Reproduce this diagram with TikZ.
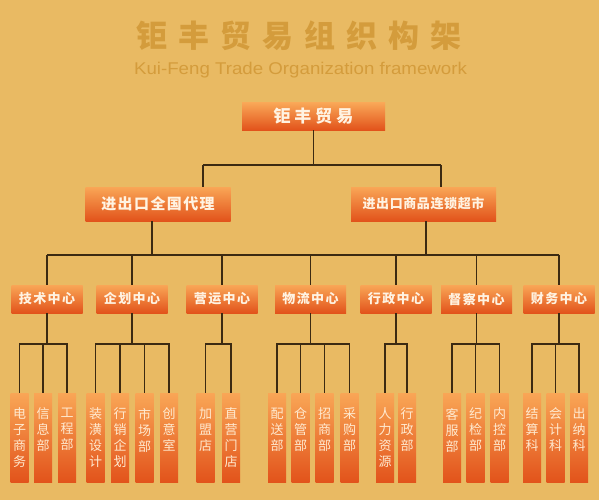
\documentclass[tikz,border=0pt]{standalone}
\usepackage{fontspec}
\setmainfont{Liberation Sans}
\newfontfamily\cjk{Noto Sans CJK SC}
\usepackage{graphicx}
\definecolor{bg}{HTML}{E9BA63}
\definecolor{ln}{HTML}{3C2A12}
\definecolor{btop}{HTML}{F9A656}
\definecolor{bmid}{HTML}{F17832}
\definecolor{bbot}{HTML}{E2531B}
\definecolor{btext}{HTML}{FFF3E2}
\definecolor{ttl}{HTML}{D49C3C}
\newcommand{\vlab}[1]{\parbox[c][89pt][t]{18pt}{\centering\vspace*{15pt}#1}}
\newcommand{\kk}{\kern1.4pt }
\tikzset{
  box/.style={inner sep=0pt, top color=btop, middle color=bmid, bottom color=bbot, text=btext},
  lvone/.style={box, minimum width=143pt, minimum height=27pt, font=\cjk\bfseries\fontsize{17}{17}\selectfont},
  lvtwo/.style={box, minimum width=145pt, minimum height=34pt},
  lvthree/.style={box, minimum width=71pt, minimum height=28pt, font=\cjk\bfseries\fontsize{13}{13}\selectfont},
  lvfour/.style={box, minimum width=18pt, minimum height=89pt, font=\cjk\fontsize{13}{16}\selectfont, text=btext!92!orange},
  conn/.style={draw=ln, line width=1.1pt},
  ttlstyle/.style={inner sep=0pt, text=ttl, font=\cjk\bfseries\fontsize{31}{31}\selectfont},
  substyle/.style={inner sep=0pt, text=ttl, font=\fontsize{17}{17}\selectfont}
}
\begin{document}
\begin{tikzpicture}[x=1pt,y=-1pt]
\useasboundingbox (0,0) rectangle (599,500);
\fill[bg] (0,0) rectangle (599,500);
% title
\node[ttlstyle] (title) at (299,36) {钜\kern11pt 丰\kern11pt 贸\kern11pt 易\kern11pt 组\kern11pt 织\kern11pt 构\kern11pt 架};
\node[substyle] (sub) at (300.5,70.5) {\scalebox{1.1}[1]{Kui-Feng Trade Organization framework}};
% level 1
\node[lvone] (n0) at (313.5,116.5) {钜\kern4pt 丰\kern4pt 贸\kern4pt 易};
% level 2
\node[lvtwo, font=\cjk\bfseries\fontsize{15}{15}\selectfont] (n1) at (158,204) {进\kk 出\kk 口\kk 全\kk 国\kk 代\kk 理};
\node[lvtwo, font=\cjk\bfseries\fontsize{13}{13}\selectfont] (n2) at (423.5,204) {进\kern0.6pt 出\kern0.6pt 口\kern0.6pt 商\kern0.6pt 品\kern0.6pt 连\kern0.6pt 锁\kern0.6pt 超\kern0.6pt 市};
% level 3
\foreach \n/\x/\t in {c1/47/技\kk 术\kk 中\kk 心, c2/132/企\kk 划\kk 中\kk 心, c3/222/营\kk 运\kk 中\kk 心, c4/310.5/物\kk 流\kk 中\kk 心, c5/396/行\kk 政\kk 中\kk 心, c6/476.5/督\kk 察\kk 中\kk 心, c7/559/财\kk 务\kk 中\kk 心}
  \node[lvthree] (\n) at (\x,299) {\t};
% level 4
\foreach \n/\x/\t in {
  d1/19.5/电\\子\\商\\务, d2/43/信\\息\\部, d3/67/工\\程\\部,
  d4/95.5/装\\潢\\设\\计, d5/120/行\\销\\企\\划, d6/144.5/市\\场\\部, d7/169/创\\意\\室,
  d8/205.5/加\\盟\\店, d9/231/直\\营\\门\\店,
  d10/277/配\\送\\部, d11/300.5/仓\\管\\部, d12/324.5/招\\商\\部, d13/349.5/采\\购\\部,
  d14/385/人\\力\\资\\源, d15/407/行\\政\\部,
  d16/452/客\\服\\部, d17/475.5/纪\\检\\部, d18/499.5/内\\控\\部,
  d19/532/结\\算\\科, d20/555.5/会\\计\\科, d21/579/出\\纳\\科}
  \node[lvfour] (\n) at (\x,437.5) {\vlab{\t}};
% connectors
\coordinate (b1) at (0,165);
\coordinate (b2) at (0,255);
\coordinate (b3) at (0,344);
\coordinate (j1) at (203,165);
\coordinate (j2) at (441,165);
\coordinate (k1) at (152,255);
\coordinate (k2) at (426,255);
\draw[conn] (n0.south) -- (n0.south |- b1);
\draw[conn] (j1) -- (j2);
\draw[conn] (j1) -- (j1 |- n1.north);
\draw[conn] (j2) -- (j2 |- n2.north);
\draw[conn] (k1 |- n1.south) -- (k1);
\draw[conn] (k2 |- n2.south) -- (k2);
\draw[conn] (c1.north |- b2) -- (c7.north |- b2);
\foreach \c in {c1,c2,c3,c4,c5,c6,c7}
  \draw[conn] (\c.north |- b2) -- (\c.north);
\foreach \p/\cs in {c1/{d1,d2,d3}, c2/{d4,d5,d6,d7}, c3/{d8,d9}, c4/{d10,d11,d12,d13}, c5/{d14,d15}, c6/{d16,d17,d18}, c7/{d19,d20,d21}} {
  \draw[conn] (\p.south) -- (\p.south |- b3);
  \foreach \c in \cs
    \draw[conn] (\p.south |- b3) -| (\c.north);
}
\end{tikzpicture}
\end{document}
